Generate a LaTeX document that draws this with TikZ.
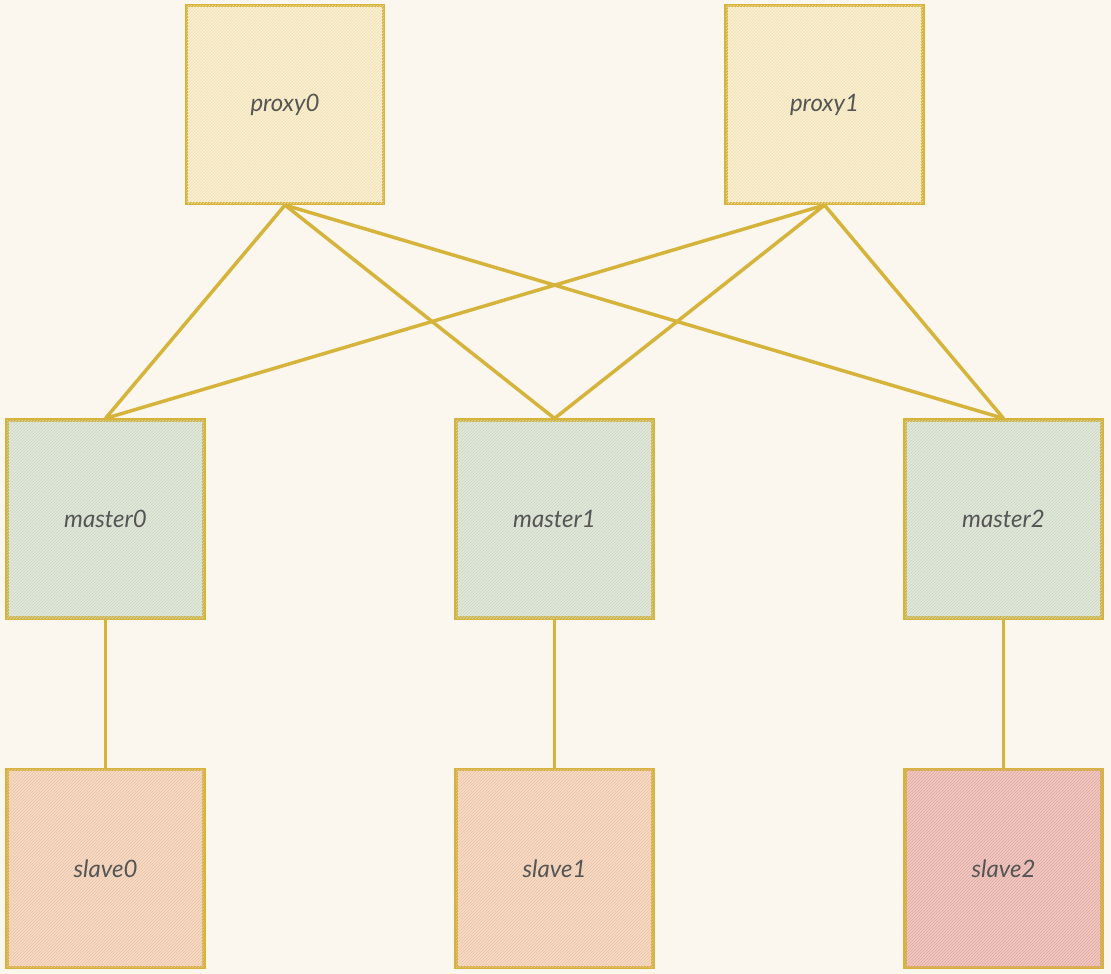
\documentclass[tikz,border=0pt]{standalone}
\usepackage{fontspec}
\setmainfont{Lato}
\usetikzlibrary{patterns}
\definecolor{bg}{HTML}{FBF7EE}
\definecolor{edge}{HTML}{D6B43C}
\definecolor{txt}{HTML}{555555}
\definecolor{pfill}{HTML}{F9F0D6}
\definecolor{phatch}{HTML}{F2DFAA}
\definecolor{mfill}{HTML}{E3E8DA}
\definecolor{mhatch}{HTML}{C9D8C4}
\definecolor{sfill}{HTML}{F5DDC8}
\definecolor{shatch}{HTML}{EEC0A0}
\definecolor{rfill}{HTML}{EFCBC2}
\definecolor{rhatch}{HTML}{E4A4A0}
\tikzset{
  box/.style={draw=edge, line width=3.2pt, minimum width=197pt, minimum height=198pt, inner sep=0pt, font=\itshape\fontsize{24}{28}\selectfont, text=txt},
  prox/.style={box, fill=pfill, postaction={pattern=north east lines, pattern color=phatch}},
  mast/.style={box, fill=mfill, postaction={pattern=north east lines, pattern color=mhatch}},
  slv/.style={box, fill=sfill, postaction={pattern=north east lines, pattern color=shatch}},
  slvr/.style={box, fill=rfill, postaction={pattern=north east lines, pattern color=rhatch}},
  link/.style={draw=edge, line width=3.5pt}
}
\begin{document}
\begin{tikzpicture}[x=1pt,y=-1pt]
\fill[bg] (0,0) rectangle (1111,974);
\useasboundingbox (0,0) rectangle (1111,974);
\node[prox] (p0) at (285,104.5) {proxy0};
\node[prox] (p1) at (824.5,104.5) {proxy1};
\node[mast] (m0) at (105.5,519) {master0};
\node[mast] (m1) at (554.5,519) {master1};
\node[mast] (m2) at (1003.5,519) {master2};
\node[slv] (s0) at (105.5,868.5) {slave0};
\node[slv] (s1) at (554.5,868.5) {slave1};
\node[slvr] (s2) at (1003.5,868.5) {slave2};
\foreach \p in {p0,p1}{\foreach \m in {m0,m1,m2}{\draw[link] (\p.south) -- (\m.north);}}
\draw[link] (m0) -- (s0);
\draw[link] (m1) -- (s1);
\draw[link] (m2) -- (s2);
\end{tikzpicture}
\end{document}
